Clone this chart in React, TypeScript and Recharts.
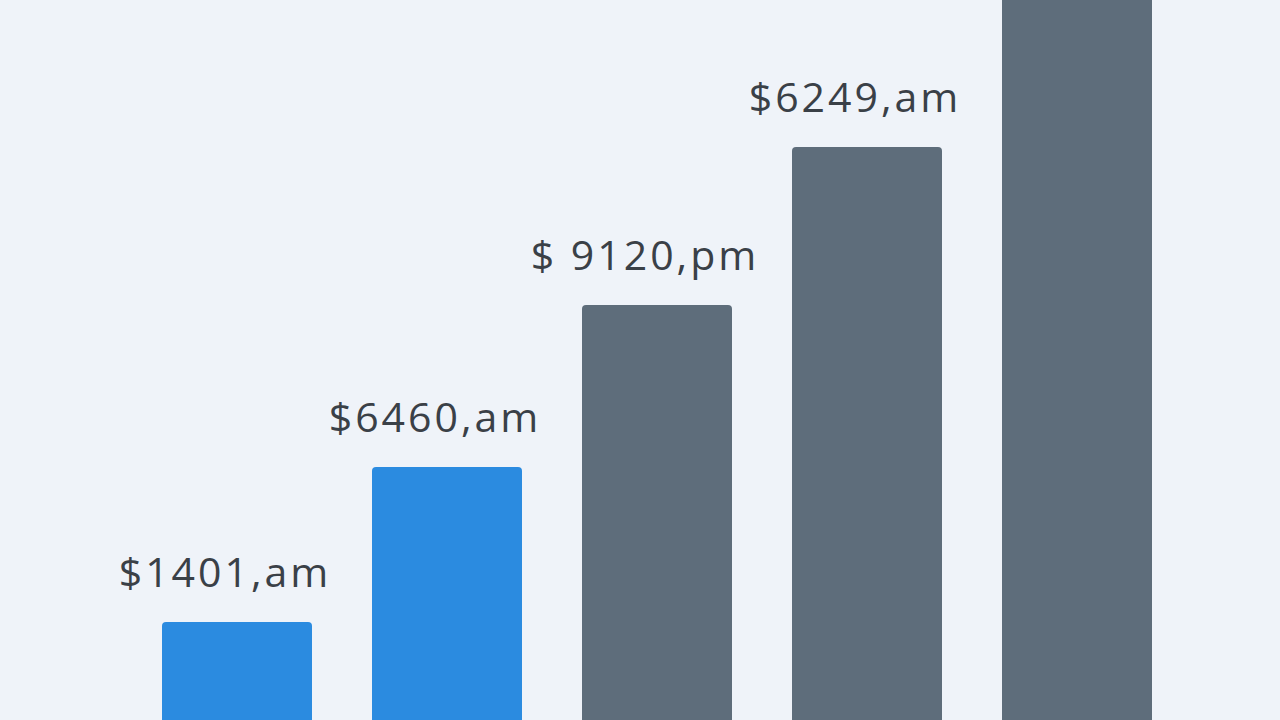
import React from 'react';
import { BarChart, Bar, XAxis, YAxis, Cell, LabelList } from 'recharts';

const categories = ['A', 'B', 'C', 'D', 'E'];
const values = [98, 253, 415, 573, 760];
const labels = ['$1401,am', '$6460,am', '$ 9120,pm', '$6249,am', ''];
const colors = ['#2b8be0', '#2b8be0', '#5e6d7b', '#5e6d7b', '#5e6d7b'];

const chartData = categories.map((name, i) => ({
  name,
  value: values[i],
  label: labels[i],
  fill: colors[i],
}));

const renderLabel = (props: any) => {
  const { x, y, width, index } = props;
  const text = labels[index];
  if (!text) return null;
  return (
    <text
      x={x + width / 2 - 12}
      y={y - 35}
      textAnchor="middle"
      fill="#3a4047"
      fontSize={41}
      letterSpacing={3}
      fontFamily="'Open Sans', sans-serif"
    >
      {text}
    </text>
  );
};

const App: React.FC = () => {
  return (
    <div
      style={{
        position: 'fixed',
        left: 0,
        top: 0,
        width: 1280,
        height: 720,
        background: '#eff3f9',
        overflow: 'hidden',
      }}
    >
      <BarChart
        width={1280}
        height={720}
        data={chartData}
        margin={{ top: 0, right: 98, bottom: 0, left: 132 }}
      >
        <XAxis dataKey="name" hide />
        <YAxis hide domain={[0, 720]} allowDataOverflow />
        <Bar dataKey="value" barSize={150} radius={[4, 4, 0, 0]} isAnimationActive={false}>
          {chartData.map((entry, index) => (
            <Cell key={`cell-${index}`} fill={entry.fill} />
          ))}
          <LabelList dataKey="label" content={renderLabel} />
        </Bar>
      </BarChart>
    </div>
  );
};

export default App;
